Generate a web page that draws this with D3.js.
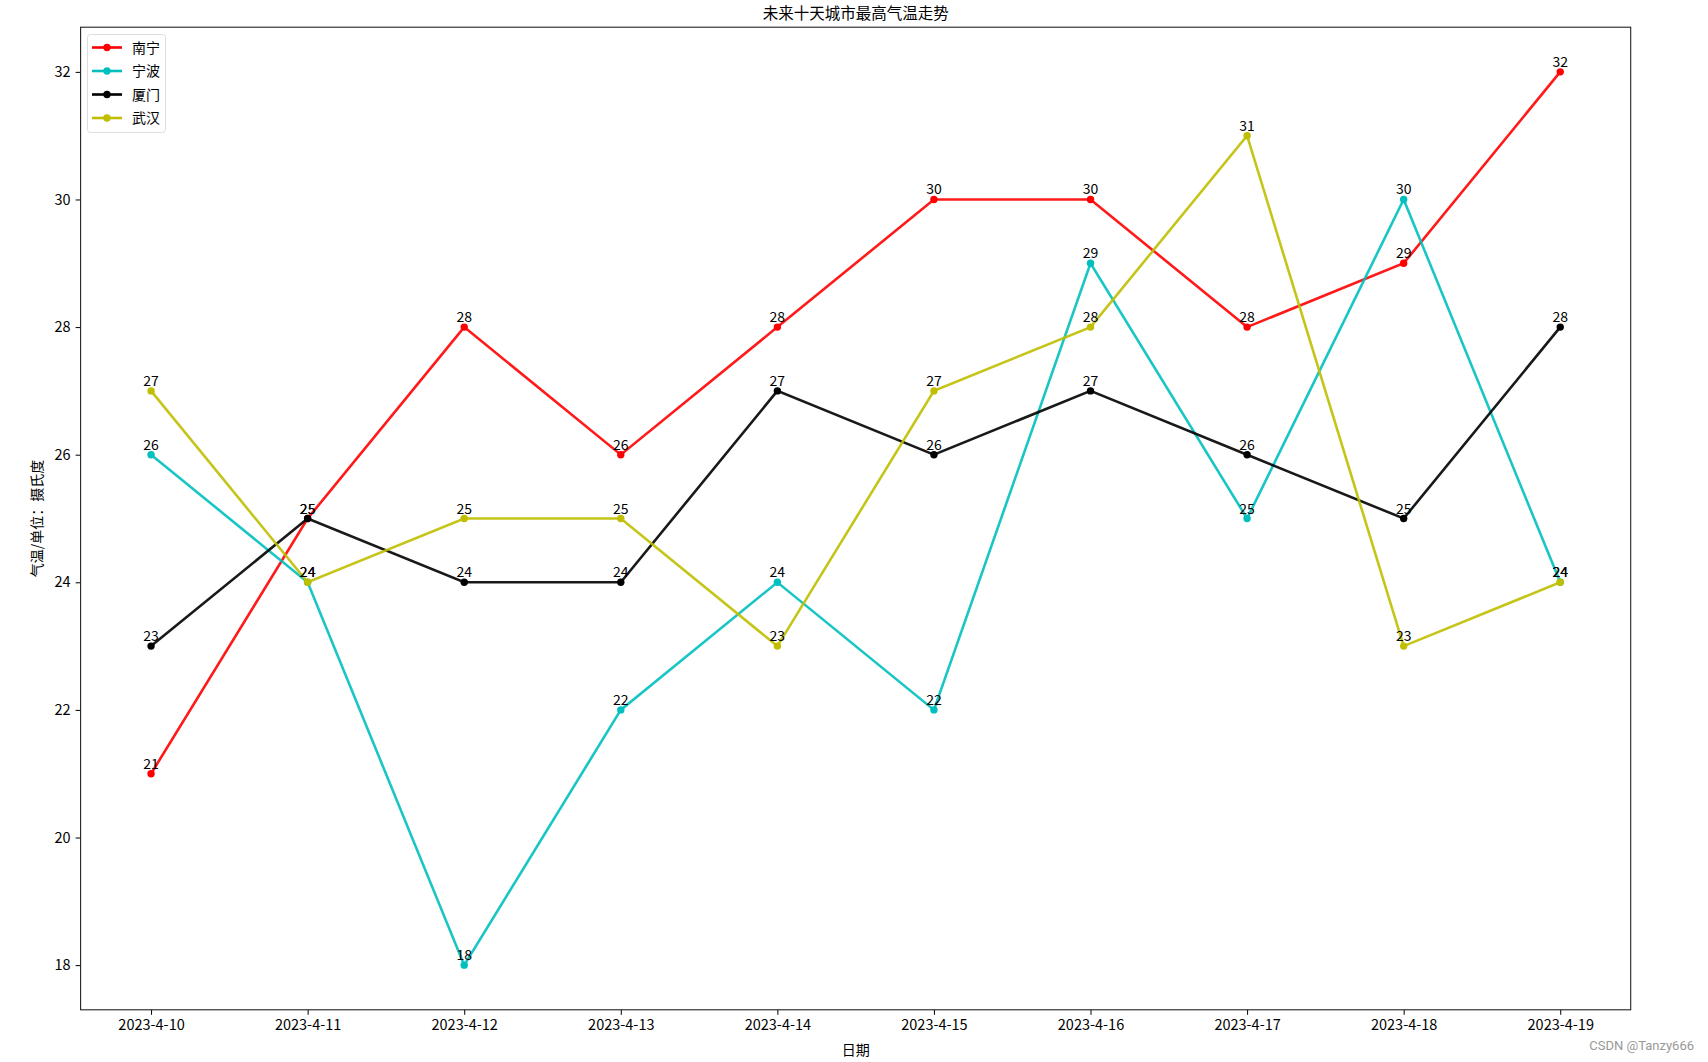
<!DOCTYPE html>
<html><head><meta charset="utf-8">
<script src="https://cdn.jsdelivr.net/npm/d3@7"></script>
<style>
html,body{margin:0;padding:0;background:#fff;}
svg{display:block;font-family:"Noto Sans CJK SC","Noto Sans",sans-serif;}
</style></head>
<body>
<script>
const dates = ["2023-4-10","2023-4-11","2023-4-12","2023-4-13","2023-4-14","2023-4-15","2023-4-16","2023-4-17","2023-4-18","2023-4-19"];
const cities = ["南宁","宁波","厦门","武汉"];
const nanning = [21,25,28,26,28,30,30,28,29,32];
const ningbo  = [26,24,18,22,24,22,29,25,30,24];
const xiamen  = [23,25,24,24,27,26,27,26,25,28];
const wuhan   = [27,24,25,25,23,27,28,31,23,24];
const colors = ["#ff0000","#00bfbf","#000000","#bfbf00"];
const yTicks = [18,20,22,24,26,28,30,32];
const series = [nanning, ningbo, xiamen, wuhan];

const W = 1708, H = 1062;
const L = 80.6, R = 1630.7, T = 27.2, B = 1009.8;
const svg = d3.select("body").append("svg").attr("width", W).attr("height", H);

const x = d3.scaleLinear().domain([-0.45, 9.45]).range([L, R]);
const y = d3.scaleLinear().domain([17.3, 32.7]).range([B, T]);

// axes
const xAxis = d3.axisBottom(x).tickValues(d3.range(dates.length)).tickFormat(i => dates[i]).tickSize(5).tickPadding(5);
const yAxis = d3.axisLeft(y).tickValues(yTicks).tickSize(5).tickPadding(5);
const gx = svg.append("g").attr("transform", `translate(0,${B})`).call(xAxis);
const gy = svg.append("g").attr("transform", `translate(${L},0)`).call(yAxis);
[gx, gy].forEach(g => {
  g.select(".domain").remove();
  g.selectAll("text").attr("font-size", 14.5).attr("fill", "#000").attr("font-family", '"Noto Sans CJK SC",sans-serif');
  g.selectAll("line").attr("stroke", "#000");
});
svg.append("rect").attr("x", L).attr("y", T).attr("width", R - L).attr("height", B - T)
  .attr("fill", "none").attr("stroke", "#222").attr("stroke-width", 1.1);

// lines
const line = d3.line().x((d, i) => x(i)).y(d => y(d));
series.forEach((s, k) => {
  const g = svg.append("g");
  g.append("path").datum(s).attr("d", line).attr("fill", "none")
    .attr("stroke", colors[k]).attr("stroke-width", 2.6).attr("stroke-opacity", 0.9);
  g.selectAll("circle").data(s).join("circle")
    .attr("cx", (d, i) => x(i)).attr("cy", d => y(d)).attr("r", 3.7).attr("fill", colors[k]);
  g.selectAll("text").data(s).join("text")
    .attr("x", (d, i) => x(i)).attr("y", d => y(d) - 5)
    .attr("text-anchor", "middle").attr("font-size", 14).attr("fill", "#000").text(d => d);
});

// title & labels
svg.append("text").attr("x", (L + R) / 2).attr("y", 19).attr("text-anchor", "middle")
  .attr("font-size", 15.5).attr("fill", "#000").text("未来十天城市最高气温走势");
svg.append("text").attr("x", (L + R) / 2).attr("y", 1055).attr("text-anchor", "middle")
  .attr("font-size", 14).attr("fill", "#000").text("日期");
svg.append("text").attr("transform", `translate(42,${(T + B) / 2}) rotate(-90)`).attr("text-anchor", "middle")
  .attr("font-size", 14).attr("fill", "#000").text("气温/单位：摄氏度");

// legend
const lg = svg.append("g");
lg.append("rect").attr("x", 87.5).attr("y", 34.5).attr("width", 78).attr("height", 98).attr("rx", 3)
  .attr("fill", "#fff").attr("fill-opacity", 0.8).attr("stroke", "#ddd");
cities.forEach((c, k) => {
  const yy = 47.5 + k * 23.5;
  lg.append("line").attr("x1", 92).attr("x2", 122).attr("y1", yy).attr("y2", yy)
    .attr("stroke", colors[k]).attr("stroke-width", 2.6);
  lg.append("circle").attr("cx", 107).attr("cy", yy).attr("r", 3.7).attr("fill", colors[k]);
  lg.append("text").attr("x", 132).attr("y", yy + 5).attr("font-size", 14).attr("fill", "#000").text(c);
});

// watermark
svg.append("text").attr("x", 1694).attr("y", 1050).attr("text-anchor", "end")
  .attr("font-size", 13).attr("fill", "#999").attr("font-family", "Roboto,sans-serif").text("CSDN @Tanzy666");
</script>
</body></html>
